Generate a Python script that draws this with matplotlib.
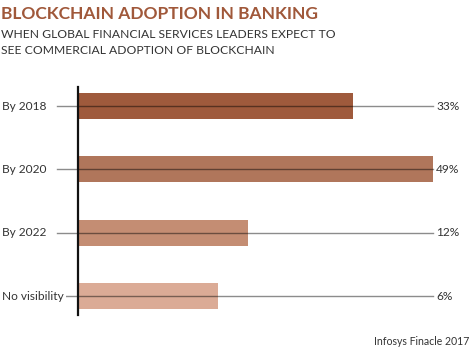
import matplotlib
matplotlib.use("Agg")
import matplotlib.pyplot as plt
import matplotlib.transforms as mtransforms
import numpy as np

categories = ["By 2018", "By 2020", "By 2022", "No visibility"]
values = [33, 49, 12, 6]
value_labels = ["33%", "49%", "12%", "6%"]
bar_colors = ["#9f5a3c", "#b0765b", "#c48d73", "#dbab96"]

title = "BLOCKCHAIN ADOPTION IN BANKING"
subtitle = "WHEN GLOBAL FINANCIAL SERVICES LEADERS EXPECT TO\nSEE COMMERCIAL ADOPTION OF BLOCKCHAIN"
source = "Infosys Finacle 2017"

W, H = 474, 354
fig = plt.figure(figsize=(W / 100, H / 100), dpi=100)
fig.patch.set_facecolor("white")

baseline = -22
ax = fig.add_axes([78 / W, 39 / H, 355 / W, 228 / H])
y = np.arange(len(categories))
vals = np.array(values, dtype=float)
ax.barh(y, vals - baseline, left=baseline, height=0.41, color=bar_colors, zorder=2)
ax.set_xlim(baseline, max(values))
ax.set_ylim(3.3, -0.3)

trans = ax.get_yaxis_transform()
for yi in y:
    ax.plot([-21 / 355, 1.0], [yi, yi], transform=trans, color="black", alpha=0.45,
            lw=1.0, clip_on=False, zorder=3)

for s in ["top", "right", "bottom"]:
    ax.spines[s].set_visible(False)
ax.spines["left"].set_linewidth(1.6)
ax.spines["left"].set_color("#111111")
ax.spines["left"].set_zorder(5)
ax.set_xticks([])
ax.set_yticks([])

font = "Lato"
bt = mtransforms.blended_transform_factory(fig.transFigure, ax.transData)
for yi, cat, lab in zip(y, categories, value_labels):
    ax.text(2 / W, yi, cat, transform=bt, ha="left", va="center", fontsize=8.6,
            color="#333333", family=font, zorder=4,
            bbox=dict(facecolor="white", edgecolor="none", pad=1.5))
    ax.text(436 / W, yi, lab, transform=bt, ha="left", va="center", fontsize=8.6,
            color="#333333", family=font, zorder=4)

fig.text(1 / W, 1 - 19 / H, title, ha="left", va="baseline", fontsize=12.5,
         fontweight="bold", color="#a0583a", family=font)
fig.text(1 / W, 1 - 54 / H, subtitle, ha="left", va="baseline", fontsize=8.7,
         color="#333333", family=font, linespacing=1.55)
fig.text(469 / W, 1 - 345 / H, source, ha="right", va="baseline", fontsize=7.6,
         color="#333333", family=font)

fig.savefig("out.png", dpi=100, facecolor="white")
